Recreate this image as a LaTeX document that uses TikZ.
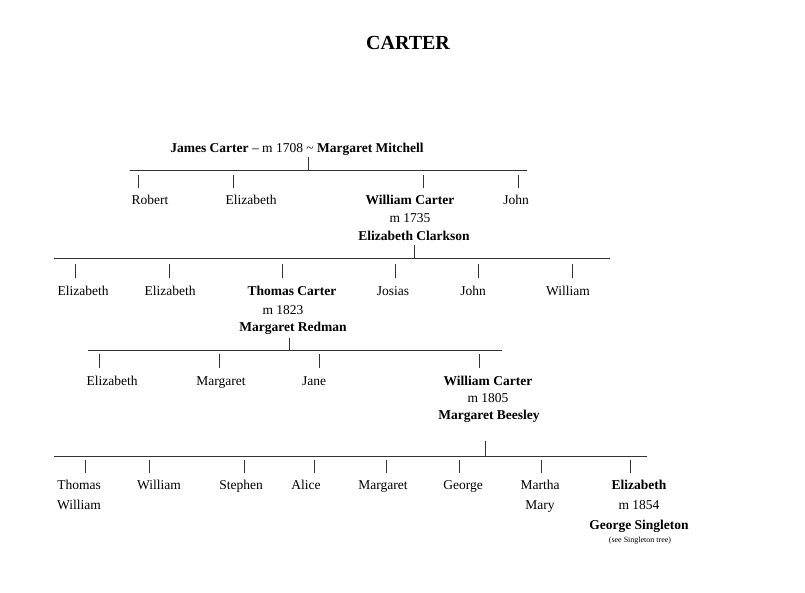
\documentclass[tikz,border=0pt]{standalone}
\usepackage{fontspec}
\setmainfont{Liberation Serif}
\begin{document}
\begin{tikzpicture}[x=1pt,y=-1pt,
  nm/.style={inner sep=0pt,anchor=base,yshift=-4.5pt,font=\fontsize{13.5}{15}\selectfont},
  bn/.style={nm,font=\fontsize{13.5}{15}\selectfont\bfseries},
  ln/.style={line width=0.6pt,black!80}]
\useasboundingbox[fill=white] (0,0) rectangle (805,592);
\node[inner sep=0pt,font=\fontsize{20}{22}\selectfont\bfseries] (title) at (408,43) {CARTER};
% gen 1
\node[nm] (p1) at (297,148) {\textbf{James Carter} – m 1708 \textasciitilde{} \textbf{Margaret Mitchell}};
\coordinate (h1a) at (130,170); \coordinate (h1b) at (527,170);
\draw[ln] (h1a) -- (h1b);
\draw[ln] (308,157) -- (308,170);
\foreach \x in {138,233,423,518} \draw[ln] (\x,175) -- (\x,188);
\node[nm] (a1) at (150,200) {Robert};
\node[nm] (a2) at (251,200) {Elizabeth};
\node[bn] (a3) at (410,200) {William Carter};
\node[nm] (a3m) at (410,218) {m 1735};
\node[bn] (a3s) at (414,236) {Elizabeth Clarkson};
\node[nm] (a4) at (516,200) {John};
% gen 2
\draw[ln] (54,258) -- (610,258);
\draw[ln] (414,245) -- (414,258);
\foreach \x in {75,169,282,395,478,572} \draw[ln] (\x,264) -- (\x,278);
\node[nm] (b1) at (83,291) {Elizabeth};
\node[nm] (b2) at (170,291) {Elizabeth};
\node[bn] (b3) at (292,291) {Thomas Carter};
\node[nm] (b3m) at (283,310) {m 1823};
\node[bn] (b3s) at (293,327) {Margaret Redman};
\node[nm] (b4) at (393,291) {Josias};
\node[nm] (b5) at (473,291) {John};
\node[nm] (b6) at (568,291) {William};
% gen 3
\draw[ln] (88,350) -- (502,350);
\draw[ln] (289,338) -- (289,350);
\foreach \x in {99,219,319,479} \draw[ln] (\x,354) -- (\x,368);
\node[nm] (c1) at (112,381) {Elizabeth};
\node[nm] (c2) at (221,381) {Margaret};
\node[nm] (c3) at (314,381) {Jane};
\node[bn] (c4) at (488,381) {William Carter};
\node[nm] (c4m) at (488,398) {m 1805};
\node[bn] (c4s) at (489,415) {Margaret Beesley};
% gen 4
\draw[ln] (54,456) -- (647,456);
\draw[ln] (485,441) -- (485,456);
\foreach \x in {85,149,244,314,386,459,541,630} \draw[ln] (\x,460) -- (\x,473);
\node[nm] (d1) at (79,485) {Thomas};
\node[nm] (d1b) at (79,505) {William};
\node[nm] (d2) at (159,485) {William};
\node[nm] (d3) at (241,485) {Stephen};
\node[nm] (d4) at (306,485) {Alice};
\node[nm] (d5) at (383,485) {Margaret};
\node[nm] (d6) at (463,485) {George};
\node[nm] (d7) at (540,485) {Martha};
\node[nm] (d7b) at (540,505) {Mary};
\node[bn] (d8) at (639,485) {Elizabeth};
\node[nm] (d8m) at (639,505) {m 1854};
\node[bn] (d8s) at (639,525) {George Singleton};
\node[inner sep=0pt,font=\fontsize{8}{9}\selectfont] (d8n) at (640,541) {(see Singleton tree)};
\end{tikzpicture}
\end{document}
